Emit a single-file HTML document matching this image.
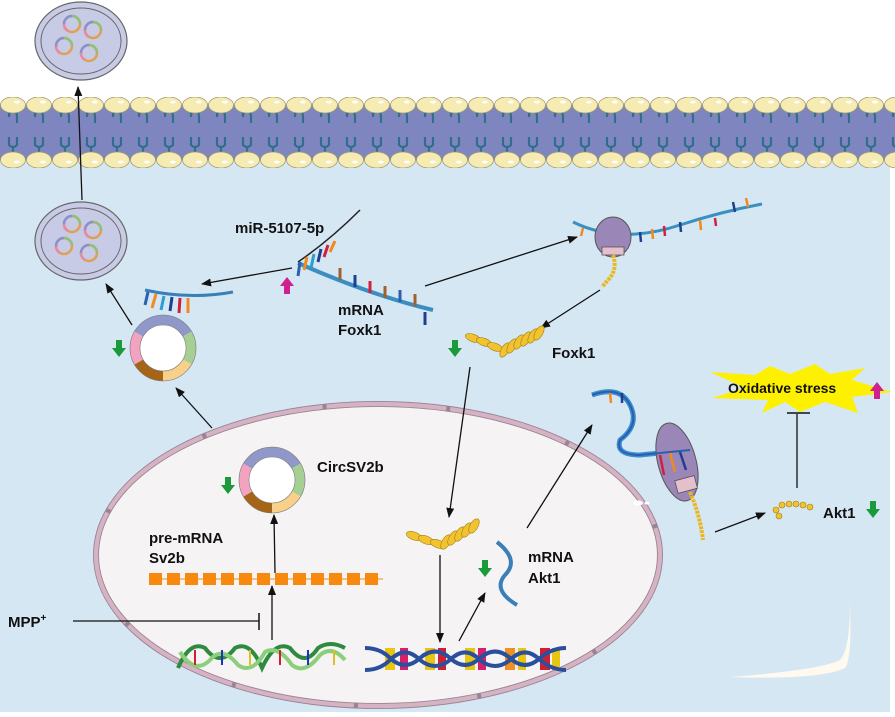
<!DOCTYPE html>
<html><head><meta charset="utf-8"><style>
html,body{margin:0;padding:0;background:#fff}
svg{display:block}
text{font-family:"Liberation Sans",Arial,sans-serif;font-weight:bold;fill:#111}
</style></head><body>
<svg width="895" height="717" viewBox="0 0 895 717" xmlns="http://www.w3.org/2000/svg">
<defs>
<marker id="ah" markerWidth="10" markerHeight="8" refX="9" refY="4" orient="auto" markerUnits="userSpaceOnUse">
<path d="M0,0 L10,4 L0,8 Z" fill="#111"/></marker>
<pattern id="lip" x="0" y="97" width="26" height="70" patternUnits="userSpaceOnUse">
<path d="M9,14 v6 q0,-6 4,-6 q4,0 4,6 v6 M13,14 v-6 M9,40 v8 q4,4 8,0 v-8 M13,50 v6" stroke="#2e6f8e" stroke-width="2.2" fill="none"/>
<ellipse cx="13" cy="8" rx="12.5" ry="8" fill="#f6ecb3" stroke="#a09a70" stroke-width="0.8"/>
<ellipse cx="13" cy="63" rx="12.5" ry="8" fill="#f6ecb3" stroke="#a09a70" stroke-width="0.8"/>
<ellipse cx="17" cy="5" rx="3" ry="1.5" fill="#fff"/>
<ellipse cx="17" cy="65" rx="3" ry="1.5" fill="#fff"/>
</pattern>
<g id="ring">
<circle r="28" fill="none" stroke="#9097c9" stroke-width="10" stroke-dasharray="29.3 146.6" transform="rotate(-90)"/>
<circle r="28" fill="none" stroke="#a7cf94" stroke-width="10" stroke-dasharray="29.3 146.6" transform="rotate(-30)"/>
<circle r="28" fill="none" stroke="#f8d08a" stroke-width="10" stroke-dasharray="29.3 146.6" transform="rotate(30)"/>
<circle r="28" fill="none" stroke="#a66416" stroke-width="10" stroke-dasharray="29.3 146.6" transform="rotate(90)"/>
<circle r="28" fill="none" stroke="#f1a3bf" stroke-width="10" stroke-dasharray="29.3 146.6" transform="rotate(150)"/>
<circle r="28" fill="none" stroke="#9097c9" stroke-width="10" stroke-dasharray="29.3 146.6" transform="rotate(210)"/>
<circle r="33" fill="none" stroke="#777" stroke-width="0.6"/><circle r="23" fill="#fff" stroke="#777" stroke-width="0.6"/>
</g>
<g id="mini"><circle r="8" fill="none" stroke="#e0a050" stroke-width="2.5"/><path d="M-8,0 A8,8 0 0 1 0,-8" stroke="#8a8fd0" stroke-width="2.5" fill="none"/><path d="M0,-8 A8,8 0 0 1 8,0" stroke="#8fc07a" stroke-width="2.5" fill="none"/><path d="M-8,0 A8,8 0 0 0 -4,7" stroke="#e887a8" stroke-width="2.5" fill="none"/></g>
<g id="ves"><ellipse rx="46" ry="39" fill="#c8cbe5" stroke="#666" stroke-width="1.2"/><ellipse rx="40" ry="33" fill="none" stroke="#666" stroke-width="1"/>
<use href="#mini" x="-9" y="-17"/><use href="#mini" x="12" y="-11"/><use href="#mini" x="-17" y="5"/><use href="#mini" x="8" y="12"/></g>
<g id="gdown"><path d="M-3,0 h6 v8 h4 l-7,9 l-7,-9 h4 z" fill="#1a9a3a"/></g>
<g id="pup"><path d="M-3,17 h6 v-8 h4 l-7,-9 l-7,9 h4 z" fill="#d0208f"/></g>
</defs>

<rect x="0" y="160" width="890" height="552" fill="#d6e7f4"/>
<rect x="0" y="105" width="895" height="55" fill="#7f86bf"/>
<rect x="0" y="97" width="895" height="71" fill="url(#lip)"/>

<use href="#ves" x="81" y="41"/>
<use href="#ves" x="81" y="241"/>
<line x1="82" y1="200" x2="78" y2="87" stroke="#111" stroke-width="1.3" marker-end="url(#ah)"/>

<!-- nucleus -->
<ellipse cx="378" cy="555" rx="282" ry="151" fill="#f5f3f4" stroke="#9a8494" stroke-width="6"/>
<ellipse cx="378" cy="555" rx="282" ry="151" fill="none" stroke="#d6b3c3" stroke-width="4.2" stroke-dasharray="120 4"/>

<!-- swoosh -->
<path d="M730,677 Q820,670 840,660 Q850,650 850,602 Q852,660 845,668 Q820,680 730,677 Z" fill="#fff9ef"/>

<use href="#ring" x="163" y="348"/>
<use href="#ring" x="272" y="480"/>
<use href="#gdown" x="119" y="340"/>
<use href="#gdown" x="228" y="477"/>
<text x="317" y="472" font-size="15">CircSV2b</text>

<path d="M145,290 Q190,300 233,292" stroke="#3a7fb8" stroke-width="3" fill="none"/>
<g stroke-width="3"><line x1="148" y1="292" x2="145" y2="305" stroke="#2b5fb0"/><line x1="156" y1="294" x2="152" y2="308" stroke="#f08a1f"/><line x1="164" y1="296" x2="161" y2="310" stroke="#2aa0d0"/><line x1="172" y1="297" x2="170" y2="311" stroke="#1f3f90"/><line x1="180" y1="298" x2="179" y2="313" stroke="#d0203f"/><line x1="188" y1="298" x2="188" y2="313" stroke="#f08a1f"/></g>
<path d="M298,263 Q370,295 433,310" stroke="#3a8fc0" stroke-width="4" fill="none"/>
<path d="M298,262 Q330,240 360,210" stroke="#222" stroke-width="1.5" fill="none"/>
<g stroke-width="3"><line x1="300" y1="262" x2="298" y2="276" stroke="#2b5fb0"/><line x1="307" y1="257" x2="304" y2="270" stroke="#f08a1f"/><line x1="314" y1="254" x2="311" y2="268" stroke="#2aa0d0"/><line x1="321" y1="249" x2="318" y2="262" stroke="#1f3f90"/><line x1="328" y1="245" x2="324" y2="257" stroke="#d0203f"/><line x1="335" y1="241" x2="330" y2="252" stroke="#f08a1f"/>
<line x1="340" y1="280" x2="340" y2="268" stroke="#a06030"/><line x1="355" y1="287" x2="355" y2="275" stroke="#1f3f90"/><line x1="370" y1="293" x2="370" y2="281" stroke="#d0203f"/><line x1="385" y1="298" x2="385" y2="286" stroke="#a06030"/><line x1="400" y1="302" x2="400" y2="290" stroke="#2b5fb0"/><line x1="415" y1="306" x2="415" y2="294" stroke="#a06030"/><line x1="425" y1="312" x2="425" y2="325" stroke="#1f3f90"/></g>
<use href="#pup" x="287" y="277"/>
<text x="235" y="233" font-size="15">miR-5107-5p</text>
<text x="338" y="315" font-size="15">mRNA</text>
<text x="338" y="335" font-size="15">Foxk1</text>

<line x1="292" y1="268" x2="202" y2="284" stroke="#111" stroke-width="1.3" marker-end="url(#ah)"/>
<line x1="132" y1="325" x2="106" y2="284" stroke="#111" stroke-width="1.3" marker-end="url(#ah)"/>
<line x1="212" y1="428" x2="176" y2="388" stroke="#111" stroke-width="1.3" marker-end="url(#ah)"/>
<line x1="425" y1="286" x2="577" y2="237" stroke="#111" stroke-width="1.3" marker-end="url(#ah)"/>

<path d="M573,222 Q620,245 680,225 Q720,212 762,204" stroke="#3a8fc0" stroke-width="3" fill="none"/>
<ellipse cx="613" cy="237" rx="18" ry="20" fill="#9b86b8" stroke="#555" stroke-width="1"/>
<rect x="602" y="247" width="22" height="8" fill="#e3c0cc" stroke="#555" stroke-width="0.8"/>
<path d="M613,255 Q618,270 608,280 L602,287" stroke="#e8b820" stroke-width="4" stroke-dasharray="3 1" fill="none"/>
<g stroke-width="2.5"><line x1="640" y1="232" x2="641" y2="242" stroke="#1f3f90"/><line x1="652" y1="229" x2="653" y2="239" stroke="#f08a1f"/><line x1="664" y1="226" x2="665" y2="236" stroke="#d0203f"/><line x1="680" y1="222" x2="681" y2="232" stroke="#1f3f90"/><line x1="700" y1="220" x2="701" y2="230" stroke="#f08a1f"/><line x1="715" y1="218" x2="716" y2="226" stroke="#d0203f"/><line x1="735" y1="212" x2="733" y2="202" stroke="#1f3f90"/><line x1="748" y1="207" x2="746" y2="198" stroke="#f08a1f"/><line x1="583" y1="228" x2="581" y2="236" stroke="#f08a1f"/></g>
<line x1="600" y1="290" x2="541" y2="328" stroke="#111" stroke-width="1.3" marker-end="url(#ah)"/>

<g fill="#f2c230" stroke="#a08010" stroke-width="0.6">
<ellipse cx="473" cy="338" rx="8" ry="3.8" transform="rotate(20 473 338)"/><ellipse cx="484" cy="342" rx="8" ry="3.8" transform="rotate(20 484 342)"/><ellipse cx="495" cy="347" rx="8" ry="3.8" transform="rotate(20 495 347)"/><ellipse cx="505" cy="350" rx="8" ry="3.8" transform="rotate(-60 505 350)"/><ellipse cx="512" cy="346" rx="8" ry="3.8" transform="rotate(-60 512 346)"/><ellipse cx="519" cy="342" rx="8" ry="3.8" transform="rotate(-60 519 342)"/><ellipse cx="526" cy="339" rx="8" ry="3.8" transform="rotate(-60 526 339)"/><ellipse cx="533" cy="336" rx="8" ry="3.8" transform="rotate(-60 533 336)"/><ellipse cx="539" cy="333" rx="8" ry="3.8" transform="rotate(-60 539 333)"/></g>
<use href="#gdown" x="455" y="340"/>
<text x="552" y="358" font-size="15">Foxk1</text>
<line x1="470" y1="367" x2="449" y2="517" stroke="#111" stroke-width="1.3" marker-end="url(#ah)"/>

<g fill="#f2c230" stroke="#a08010" stroke-width="0.6">
<ellipse cx="414" cy="536" rx="8" ry="4" transform="rotate(20 414 536)"/><ellipse cx="426" cy="540" rx="8" ry="4" transform="rotate(20 426 540)"/><ellipse cx="438" cy="544" rx="8" ry="4" transform="rotate(20 438 544)"/><ellipse cx="446" cy="542" rx="8" ry="4" transform="rotate(-60 446 542)"/><ellipse cx="453" cy="538" rx="8" ry="4" transform="rotate(-60 453 538)"/><ellipse cx="460" cy="534" rx="8" ry="4" transform="rotate(-60 460 534)"/><ellipse cx="467" cy="530" rx="8" ry="4" transform="rotate(-60 467 530)"/><ellipse cx="474" cy="526" rx="8" ry="4" transform="rotate(-60 474 526)"/></g>
<line x1="440" y1="555" x2="440" y2="642" stroke="#111" stroke-width="1.3" marker-end="url(#ah)"/>
<line x1="459" y1="641" x2="485" y2="593" stroke="#111" stroke-width="1.3" marker-end="url(#ah)"/>
<line x1="527" y1="528" x2="592" y2="425" stroke="#111" stroke-width="1.3" marker-end="url(#ah)"/>

<path d="M497,542 Q520,560 505,575 Q492,590 517,605" stroke="#3a7fb8" stroke-width="4" fill="none"/>
<use href="#gdown" x="485" y="560"/>
<text x="528" y="562" font-size="15">mRNA</text>
<text x="528" y="583" font-size="15">Akt1</text>

<text x="149" y="543" font-size="15">pre-mRNA</text>
<text x="149" y="563" font-size="15">Sv2b</text>
<line x1="149" y1="579" x2="383" y2="579" stroke="#f08a1f" stroke-width="1"/>
<line x1="149" y1="579" x2="383" y2="579" stroke="#f7890f" stroke-width="12" stroke-dasharray="13 5"/>
<line x1="275" y1="573" x2="274" y2="515" stroke="#111" stroke-width="1.3" marker-end="url(#ah)"/>
<line x1="272" y1="640" x2="272" y2="586" stroke="#111" stroke-width="1.3" marker-end="url(#ah)"/>
<text x="8" y="627" font-size="15">MPP<tspan font-size="10" dy="-6">+</tspan></text>
<line x1="73" y1="621" x2="259" y2="621" stroke="#111" stroke-width="1.3"/>
<line x1="259" y1="613" x2="259" y2="630" stroke="#111" stroke-width="1.5"/>

<g stroke-width="4" fill="none">
<path d="M178,668 Q190,640 205,648 Q220,668 235,648 Q250,640 262,668 Q275,640 290,648 Q305,668 318,648 Q330,640 345,648" stroke="#2e8a3e"/>
<path d="M180,652 Q195,675 210,660 Q222,645 238,665 Q252,675 265,652 Q278,645 292,665 Q305,675 320,655 Q332,645 345,660" stroke="#8ccf7a"/>
</g>
<g stroke-width="2"><line x1="195" y1="650" x2="195" y2="665" stroke="#d02030"/><line x1="222" y1="650" x2="222" y2="665" stroke="#2030c0"/><line x1="250" y1="650" x2="250" y2="665" stroke="#e0c020"/><line x1="280" y1="650" x2="280" y2="665" stroke="#d02030"/><line x1="308" y1="650" x2="308" y2="665" stroke="#2030c0"/><line x1="334" y1="650" x2="334" y2="665" stroke="#e0c020"/></g>

<g>
<rect x="385" y="648" width="10" height="22" fill="#e8c510"/><rect x="400" y="648" width="8" height="22" fill="#d8206a"/>
<rect x="425" y="648" width="10" height="22" fill="#e8c510"/><rect x="438" y="648" width="8" height="22" fill="#d02030"/>
<rect x="465" y="648" width="10" height="22" fill="#e8c510"/><rect x="478" y="648" width="8" height="22" fill="#d8206a"/>
<rect x="505" y="648" width="10" height="22" fill="#f09020"/><rect x="518" y="648" width="8" height="22" fill="#e8c510"/>
<rect x="540" y="648" width="10" height="22" fill="#d02030"/><rect x="552" y="648" width="8" height="22" fill="#e8c510"/>
</g>
<g stroke="#2a4f9c" stroke-width="4" fill="none">
<path d="M365,648 Q380,648 390,658 Q405,672 420,658 Q435,645 450,658 Q465,672 480,658 Q495,645 510,658 Q525,672 540,658 Q552,648 566,648"/>
<path d="M365,670 Q380,670 390,660 Q405,645 420,660 Q435,672 450,660 Q465,645 480,660 Q495,672 510,660 Q525,645 540,660 Q552,670 566,670"/>
</g>

<path d="M592,395 Q620,385 630,405 Q640,425 620,440 Q615,455 640,455 L690,450" stroke="#3a8fd0" stroke-width="5" fill="none"/>
<ellipse cx="677" cy="462" rx="19" ry="40" fill="#9b86b8" stroke="#555" stroke-width="1" transform="rotate(-15 677 462)"/>
<path d="M592,395 Q620,385 630,405 Q640,425 620,440 Q615,455 640,455 L690,450" stroke="#2a5fb0" stroke-width="2" fill="none"/>
<g stroke-width="2.5"><line x1="610" y1="393" x2="611" y2="403" stroke="#f08a1f"/><line x1="622" y1="393" x2="622" y2="403" stroke="#1f3f90"/><line x1="660" y1="455" x2="664" y2="475" stroke="#d0203f"/><line x1="670" y1="453" x2="675" y2="472" stroke="#f08a1f"/><line x1="680" y1="452" x2="686" y2="470" stroke="#1f3f90"/></g>
<rect x="676" y="478" width="20" height="13" fill="#e3c0cc" stroke="#555" stroke-width="0.8" transform="rotate(-15 686 484)"/>
<path d="M690,492 Q700,515 703,540" stroke="#e8b820" stroke-width="4" stroke-dasharray="3 1" fill="none"/>
<ellipse cx="638" cy="503" rx="5" ry="2.5" fill="#fff"/><ellipse cx="647" cy="503" rx="2.5" ry="1.5" fill="#fff"/>
<line x1="715" y1="532" x2="765" y2="513" stroke="#111" stroke-width="1.3" marker-end="url(#ah)"/>

<g fill="#f2c230" stroke="#a08010" stroke-width="0.6"><circle cx="779" cy="516" r="3"/><circle cx="776" cy="510" r="3"/><circle cx="782" cy="505" r="3"/><circle cx="789" cy="504" r="3"/><circle cx="796" cy="504" r="3"/><circle cx="803" cy="505" r="3"/><circle cx="810" cy="507" r="3"/></g>
<text x="823" y="518" font-size="15">Akt1</text>
<use href="#gdown" x="873" y="501"/>
<line x1="797" y1="488" x2="797" y2="414" stroke="#111" stroke-width="1.3"/>
<line x1="787" y1="413" x2="810" y2="413" stroke="#111" stroke-width="1.5"/>

<path d="M710,372 L755,375 L770,366 L790,374 L815,364 L830,374 L865,368 L852,380 L892,392 L852,397 L858,413 L825,402 L800,412 L785,402 L762,413 L768,400 L712,398 L745,388 Z" fill="#fdf000"/>
<text x="728" y="393" font-size="14">Oxidative stress</text>
<use href="#pup" x="877" y="382"/>
</svg>
</body></html>
